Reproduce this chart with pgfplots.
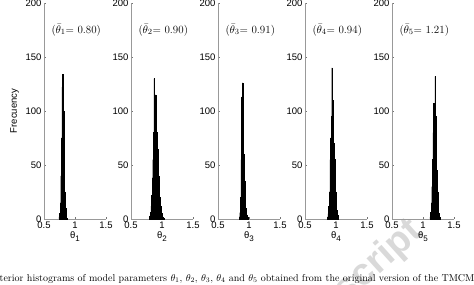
\documentclass[border=0pt]{standalone}
\usepackage{pgfplots}
\pgfplotsset{compat=1.18}
\usepackage{fontspec}
\newfontfamily\helv{Liberation Sans}

\pgfplotstableread{
x y
0.74 2
0.75 5
0.76 15
0.77 40
0.78 75
0.79 122
0.80 134
0.81 100
0.82 60
0.83 25
0.84 10
0.85 4
0.86 1
0.87 0
}\histA
\pgfplotstableread{
x y
0.80 3
0.81 6
0.82 12
0.83 22
0.84 38
0.85 55
0.86 80
0.87 130
0.88 100
0.89 115
0.90 98
0.91 80
0.92 65
0.93 48
0.94 40
0.95 30
0.96 20
0.97 12
0.98 8
0.99 5
1.00 3
1.01 2
1.02 1
1.03 0
}\histB
\pgfplotstableread{
x y
0.84 2
0.85 6
0.86 20
0.87 55
0.88 113
0.89 126
0.90 95
0.91 60
0.92 35
0.93 20
0.94 10
0.95 6
0.96 4
0.97 2
0.98 1
0.99 0
}\histC
\pgfplotstableread{
x y
0.86 2
0.87 5
0.88 12
0.89 25
0.90 55
0.91 75
0.92 95
0.93 140
0.94 110
0.95 98
0.96 70
0.97 55
0.98 40
0.99 25
1.00 15
1.01 8
1.02 4
1.03 1
1.04 0
}\histD
\pgfplotstableread{
x y
1.11 2
1.12 6
1.13 15
1.14 30
1.15 55
1.16 80
1.17 107
1.18 100
1.19 132
1.20 95
1.21 70
1.22 45
1.23 25
1.24 12
1.25 5
1.26 2
1.27 0
}\histE

\pgfplotsset{
  hist/.style={
    scale only axis, width=62pt, height=216pt,
    anchor=south west,
    xmin=0.5, xmax=1.5, ymin=0, ymax=200,
    axis x line*=bottom, axis y line*=left,
    axis line style={-, black!40, line width=0.6pt},
    xtick={0.5,1,1.5}, ytick={0,50,100,150,200},
    tick style={black!55, line width=0.5pt},
    major tick length=2pt, tick align=inside,
    tick label style={font=\helv\fontsize{9.5}{10}\selectfont},
    /pgf/number format/assume math mode=true,
    xticklabel style={yshift=1pt},
    yticklabel style={xshift=1pt},
    xlabel style={font=\helv\fontsize{9.5}{10}\selectfont, yshift=4pt},
    ylabel style={font=\helv\fontsize{9.5}{10}\selectfont},
    clip=false,
  },
  barst/.style={ybar interval, fill=black, draw=black, line width=0.3pt},
}

\newcommand{\thl}[1]{θ\raisebox{-0.75ex}{\fontsize{8}{8}\selectfont #1}}

\begin{document}
\begin{tikzpicture}[x=1pt,y=1pt]
\useasboundingbox (0,0) rectangle (474,284);

\node[rotate=42, anchor=base east, text=black!15, inner sep=0pt,
  font=\helv\bfseries\fontsize{38}{38}\selectfont] at (424,50) {script};

\begin{axis}[hist, at={(44pt,65pt)}, xlabel={\thl{1}}, ylabel={Frecuency}]
\addplot[barst] table[x=x,y=y] {\histA};
\node[font=\fontsize{11}{12}\selectfont] at (axis cs:1.02,175) {($\bar{\theta}_1$= 0.80)};
\end{axis}

\begin{axis}[hist, at={(131pt,65pt)}, xlabel={\thl{2}}]
\addplot[barst] table[x=x,y=y] {\histB};
\node[font=\fontsize{11}{12}\selectfont] at (axis cs:1.02,175) {($\bar{\theta}_2$= 0.90)};
\end{axis}

\begin{axis}[hist, at={(218pt,65pt)}, xlabel={\thl{3}}]
\addplot[barst] table[x=x,y=y] {\histC};
\node[font=\fontsize{11}{12}\selectfont] at (axis cs:1.02,175) {($\bar{\theta}_3$= 0.91)};
\end{axis}

\begin{axis}[hist, at={(305pt,65pt)}, xlabel={\thl{4}}]
\addplot[barst] table[x=x,y=y] {\histD};
\node[font=\fontsize{11}{12}\selectfont] at (axis cs:1.02,175) {($\bar{\theta}_4$= 0.94)};
\end{axis}

\begin{axis}[hist, at={(392pt,65pt)}, xlabel={\thl{5}}]
\addplot[barst] table[x=x,y=y] {\histE};
\node[font=\fontsize{11}{12}\selectfont] at (axis cs:1.02,175) {($\bar{\theta}_5$= 1.21)};
\end{axis}

\node[anchor=base west, font=\fontsize{10}{12}\selectfont, inner sep=0pt] at (-16,3)
  {Posterior histograms of model parameters $\theta_1$, $\theta_2$, $\theta_3$, $\theta_4$ and $\theta_5$ obtained from the original version of the TMCMC};
\end{tikzpicture}
\end{document}
